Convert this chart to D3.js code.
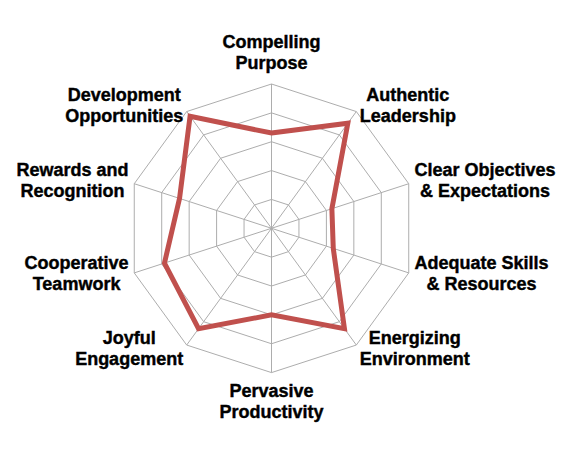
<!DOCTYPE html>
<html>
<head>
<meta charset="utf-8">
<script src="https://cdn.jsdelivr.net/npm/d3@7"></script>
<style>
    html, body { margin: 0; padding: 0; background: #ffffff; }
    svg { display: block; }
</style>
</head>
<body>
<svg></svg>
<script>
// categories, clockwise from the top
let categories = [
    ["Compelling", "Purpose"],
    ["Authentic", "Leadership"],
    ["Clear Objectives", "& Expectations"],
    ["Adequate Skills", "& Resources"],
    ["Energizing", "Environment"],
    ["Pervasive", "Productivity"],
    ["Joyful", "Engagement"],
    ["Cooperative", "Teamwork"],
    ["Rewards and", "Recognition"],
    ["Development", "Opportunities"]
];
let values = [3.3, 4.5, 2.2, 2.25, 4.3, 3.0, 4.3, 3.9, 3.35, 4.8];
let ringTicks = [1, 2, 3, 4, 5];

let svg = d3.select("svg").attr("width", 571).attr("height", 449);

const cx = 271.5, cy = 228.3, radius = 144.3;
const n = categories.length;

let r = d3.scaleLinear().domain([0, 5]).range([0, radius]);
let angle = d3.scaleLinear().domain([0, n]).range([0, 2 * Math.PI]);

let chart = svg.append("g").attr("transform", `translate(${cx},${cy})`);

function Grid_Draw() {
    let grid = chart.append("g")
        .style("stroke", "#adadad")
        .style("stroke-width", 1)
        .style("fill", "none");

    let ring = d3.lineRadial()
        .angle((d, i) => angle(i))
        .radius((d) => r(d))
        .curve(d3.curveLinearClosed);

    grid.selectAll("path.ring")
        .data(ringTicks)
        .enter()
        .append("path")
        .attr("class", "ring")
        .attr("d", (t) => ring(d3.range(n).map(() => t)));

    grid.selectAll("line.spoke")
        .data(categories)
        .enter()
        .append("line")
        .attr("class", "spoke")
        .attr("x1", 0).attr("y1", 0)
        .attr("x2", (d, i) => r(5) * Math.sin(angle(i)))
        .attr("y2", (d, i) => -r(5) * Math.cos(angle(i)));
}

function Series_Draw() {
    let line = d3.lineRadial()
        .angle((d, i) => angle(i))
        .radius((d) => r(d))
        .curve(d3.curveLinearClosed);

    chart.append("path")
        .attr("d", line(values))
        .style("fill", "none")
        .style("stroke", "#c0504d")
        .style("stroke-width", 5)
        .style("stroke-linejoin", "miter");
}

function Labels_Draw() {
    let labels = chart.append("g")
        .style("font-family", "'Liberation Sans', Arial, sans-serif")
        .style("font-weight", "bold")
        .style("font-size", "18px")
        .style("fill", "#000000")
        .style("stroke", "#000000")
        .style("stroke-width", 0.4);

    categories.forEach((lines, i) => {
        let a = angle(i);
        let sx = Math.sin(a), sy = -Math.cos(a);
        let ax = (r(5) + 6) * sx, ay = (r(5) + 6) * sy;
        let g = labels.append("g");
        let texts = lines.map((s) => g.append("text").text(s).attr("text-anchor", "middle"));
        let w = d3.max(texts, (t) => t.node().getComputedTextLength());

        let x, y0;
        if (Math.abs(sx) < 0.01) {
            // top and bottom labels sit centred on the spoke
            x = ax;
            y0 = sy < 0 ? ay - 8.7 - 21 * (lines.length - 1) : ay + 18.7;
        } else {
            // side labels: box edge against the outer ring
            x = sx > 0 ? ax + w / 2 : ax - w / 2;
            y0 = ay - 5.5;
        }
        texts.forEach((t, k) => t.attr("x", x).attr("y", y0 + 21 * k));
    });
}

Grid_Draw();
Series_Draw();
Labels_Draw();
</script>
</body>
</html>
